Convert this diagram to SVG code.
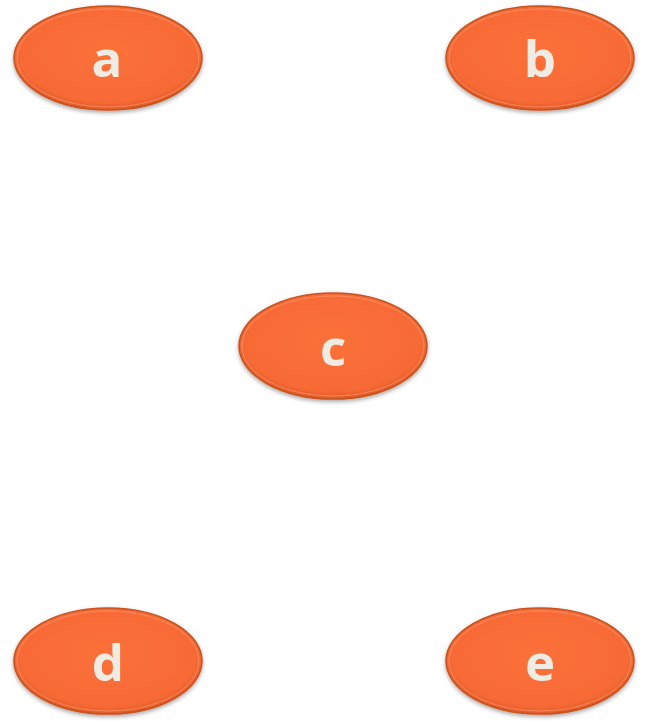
<svg xmlns="http://www.w3.org/2000/svg" width="648" height="723" viewBox="0 0 648 723">
<defs>
<radialGradient id="g" cx="0.5" cy="0.45" r="0.55">
<stop offset="0" stop-color="#FB6F3A"/>
<stop offset="0.85" stop-color="#F86B36"/>
<stop offset="1" stop-color="#E05A28"/>
</radialGradient>
<filter id="sh" x="-10%" y="-10%" width="120%" height="130%">
<feGaussianBlur in="SourceAlpha" stdDeviation="2"/>
<feOffset dy="2"/>
<feComponentTransfer><feFuncA type="linear" slope="0.35"/></feComponentTransfer>
<feMerge><feMergeNode/><feMergeNode in="SourceGraphic"/></feMerge>
</filter>
</defs>
<style>
.n ellipse.o{fill:url(#g);stroke:#C8521F;stroke-width:1.5;filter:url(#sh)}
.n ellipse.i{fill:none;stroke:#FFA27A;stroke-width:1;opacity:0.6}
.n text{font-family:"Open Sans","Liberation Sans",sans-serif;font-weight:bold;font-size:51px;fill:#EFECE3;text-anchor:middle}
</style>
<rect width="648" height="723" fill="#fff"/>
<g id="connectors"></g>
<g id="a" class="n"><ellipse class="o" cx="108" cy="58" rx="94" ry="52"/><ellipse class="i" cx="108" cy="58" rx="91" ry="49"/><text x="107" y="77">a</text></g>
<g id="b" class="n"><ellipse class="o" cx="540" cy="58" rx="94" ry="52"/><ellipse class="i" cx="540" cy="58" rx="91" ry="49"/><text x="540" y="77">b</text></g>
<g id="c" class="n"><ellipse class="o" cx="333" cy="346" rx="94" ry="53"/><ellipse class="i" cx="333" cy="346" rx="91" ry="50"/><text x="333" y="366">c</text></g>
<g id="d" class="n"><ellipse class="o" cx="108" cy="661" rx="94" ry="53"/><ellipse class="i" cx="108" cy="661" rx="91" ry="50"/><text x="108" y="681">d</text></g>
<g id="e" class="n"><ellipse class="o" cx="540" cy="661" rx="94" ry="53"/><ellipse class="i" cx="540" cy="661" rx="91" ry="50"/><text x="540" y="681">e</text></g>
</svg>
